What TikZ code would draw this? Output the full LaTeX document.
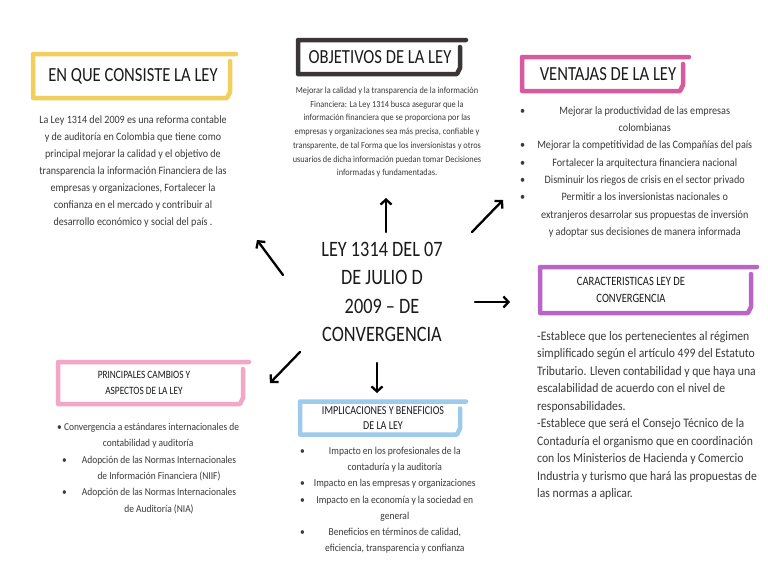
\documentclass[tikz,border=0pt]{standalone}
\usepackage{fontspec}
\setmainfont{Carlito}[FakeStretch=0.9]
\newfontfamily\titlefont{Carlito}[FakeStretch=0.83]
\usetikzlibrary{arrows.meta,positioning}

\definecolor{markYellow}{HTML}{F2CE5E}
\definecolor{markDark}{HTML}{3B3536}
\definecolor{markRose}{HTML}{D85A9E}
\definecolor{markPurple}{HTML}{B865C6}
\definecolor{markPink}{HTML}{F2A7C6}
\definecolor{markBlue}{HTML}{9ECBEB}
\definecolor{titleInk}{HTML}{1A1A1A}
\definecolor{bodyInk}{HTML}{3A3A3A}

% marker frame round a title node: name, colour, left, right, half height
\newcommand{\handbox}[5]{%
  \draw[marker, draw=#2]
    ([shift={(#4+6,-#5)}]#1.center) -- ([shift={(-#3,-#5)}]#1.center)
    -- ([shift={(-#3,#5)}]#1.center) -- ([shift={(#4-3,#5)}]#1.center)
    -- ([shift={(#4,#5-6)}]#1.center) -- ([shift={(#4,-#5+7)}]#1.center);}

\begin{document}
\begin{tikzpicture}[x=1pt,y=-1pt]
  \tikzset{marker/.style={line width=4.5pt, line cap=round, line join=round},
    title text/.style={font=\titlefont\fontsize{20}{22}\selectfont, text=titleInk, inner sep=0pt},
    small title/.style={font=\titlefont\fontsize{12}{16}\selectfont, text=titleInk, inner sep=0pt, align=center},
    body text/.style={text=bodyInk, inner sep=0pt},
    big arrow/.style={line width=2.3pt, line cap=round, -{Straight Barb[length=5pt,width=11pt]}}}
  \useasboundingbox[fill=white] (0,0) rectangle (768,576);

  % centre
  \node[font=\titlefont\fontsize{22}{28.5}\selectfont, text=titleInk, inner sep=0pt, align=center] (ley) at (382,292)
    {LEY 1314 DEL 07\\DE JULIO D\\2009 – DE\\CONVERGENCIA};

  % titles
  \node[title text] (consiste) at (133,76) {EN QUE CONSISTE LA LEY};
  \node[title text] (objetivos) at (380,57) {OBJETIVOS DE LA LEY};
  \node[title text] (ventajas) at (608,74) {VENTAJAS DE LA LEY};
  \node[small title, font=\titlefont\fontsize{12.7}{17}\selectfont] (caracteristicas) at (631,290) {CARACTERISTICAS LEY DE\\CONVERGENCIA};
  \node[small title, font=\titlefont\fontsize{11.2}{16}\selectfont] (principales) at (144,383) {PRINCIPALES CAMBIOS Y\\ASPECTOS DE LA LEY};
  \node[small title, font=\titlefont\fontsize{12.1}{15}\selectfont] (implicaciones) at (383,418) {IMPLICACIONES Y BENEFICIOS\\DE LA LEY};

  \handbox{consiste}{markYellow}{100}{97}{22}
  \handbox{objetivos}{markDark}{82}{80}{17}
  \handbox{ventajas}{markRose}{86}{75}{17}
  \handbox{caracteristicas}{markPurple}{91}{120}{23}
  \handbox{principales}{markPink}{86}{99}{21}
  \handbox{implicaciones}{markBlue}{83}{77}{16.5}

  % texts
  \node[body text, align=center, anchor=north, font=\fontsize{11.2}{17}\selectfont] (consisteText) at (133,116)
    {La Ley 1314 del 2009 es una reforma contable\\
     y de auditoría en Colombia que tiene como\\
     principal mejorar la calidad y el objetivo de\\
     transparencia la información Financiera de las\\
     empresas y organizaciones, Fortalecer la\\
     confianza en el mercado y contribuir al\\
     desarrollo económico y social del país .};
  \node[body text, align=center, anchor=north, font=\fontsize{9.2}{13.7}\selectfont] (objetivosText) at (387,87)
    {Mejorar la calidad y la transparencia de la información\\
     Financiera: La Ley 1314 busca asegurar que la\\
     información financiera que se proporciona por las\\
     empresas y organizaciones sea más precisa, confiable y\\
     transparente, de tal Forma que los inversionistas y otros\\
     usuarios de dicha información puedan tomar Decisiones\\
     informadas y fundamentadas.};
  \node[body text, anchor=north west, font=\fontsize{11.3}{17.3}\selectfont] (ventajasText) at (520,102)
    {\begin{tabular}{@{}l@{\hspace{12pt}}c@{}}
     • & Mejorar la productividad de las empresas\\
       & colombianas\\
     • & Mejorar la competitividad de las Compañías del país\\
     • & Fortalecer la arquitectura financiera nacional\\
     • & Disminuir los riegos de crisis en el sector privado\\
     • & Permitir a los inversionistas nacionales o\\
       & extranjeros desarrolar sus propuestas de inversión\\
       & y adoptar sus decisiones de manera informada
     \end{tabular}};
  \node[body text, align=left, anchor=north west, font=\fontsize{13}{17.5}\selectfont] (caracteristicasText) at (537,331)
    {-Establece que los pertenecientes al régimen\\
     simplificado según el artículo 499 del Estatuto\\
     Tributario. Lleven contabilidad y que haya una\\
     escalabilidad de acuerdo con el nivel de\\
     responsabilidades.\\
     -Establece que será el Consejo Técnico de la\\
     Contaduría el organismo que en coordinación\\
     con los Ministerios de Hacienda y Comercio\\
     Industria y turismo que hará las propuestas de\\
     las normas a aplicar.};
  \node[body text, anchor=north west, font=\fontsize{10.5}{16.3}\selectfont] (principalesText) at (57,419)
    {\begin{tabular}{@{}l@{}c@{}}
     \multicolumn{2}{@{}c@{}}{• Convergencia a estándares internacionales de}\\
     \multicolumn{2}{@{}c@{}}{contabilidad y auditoría}\\
     \hspace{5pt}•\hspace{12pt} & Adopción de las Normas Internacionales\\
       & de Información Financiera (NIIF)\\
     \hspace{5pt}•\hspace{12pt} & Adopción de las Normas Internacionales\\
       & de Auditoría (NIA)
     \end{tabular}};
  \node[body text, anchor=north west, font=\fontsize{10.6}{16.2}\selectfont] (implicacionesText) at (300,443)
    {\begin{tabular}{@{}l@{\hspace{9pt}}c@{}}
     • & Impacto en los profesionales de la\\
       & contaduría y la auditoría\\
     • & Impacto en las empresas y organizaciones\\
     • & Impacto en la economía y la sociedad en\\
       & general\\
     • & Beneficios en términos de calidad,\\
       & eficiencia, transparencia y confianza
     \end{tabular}};

  % arrows
  \coordinate (upTail) at (386,232);
  \coordinate (upTip) at (386,198);
  \coordinate (leftTail) at (283,275);
  \coordinate (leftTip) at (257,240);
  \coordinate (rightUpTail) at (472,232);
  \coordinate (rightUpTip) at (503,200);
  \coordinate (rightTail) at (475,302);
  \coordinate (rightTip) at (510,302);
  \coordinate (downLeftTail) at (300,352);
  \coordinate (downLeftTip) at (270,383);
  \coordinate (downTail) at (377,363);
  \coordinate (downTip) at (377,393);
  \draw[big arrow] (upTail) -- (upTip);
  \draw[big arrow] (leftTail) -- (leftTip);
  \draw[big arrow] (rightUpTail) -- (rightUpTip);
  \draw[big arrow] (rightTail) -- (rightTip);
  \draw[big arrow] (downLeftTail) -- (downLeftTip);
  \draw[big arrow] (downTail) -- (downTip);
\end{tikzpicture}
\end{document}
